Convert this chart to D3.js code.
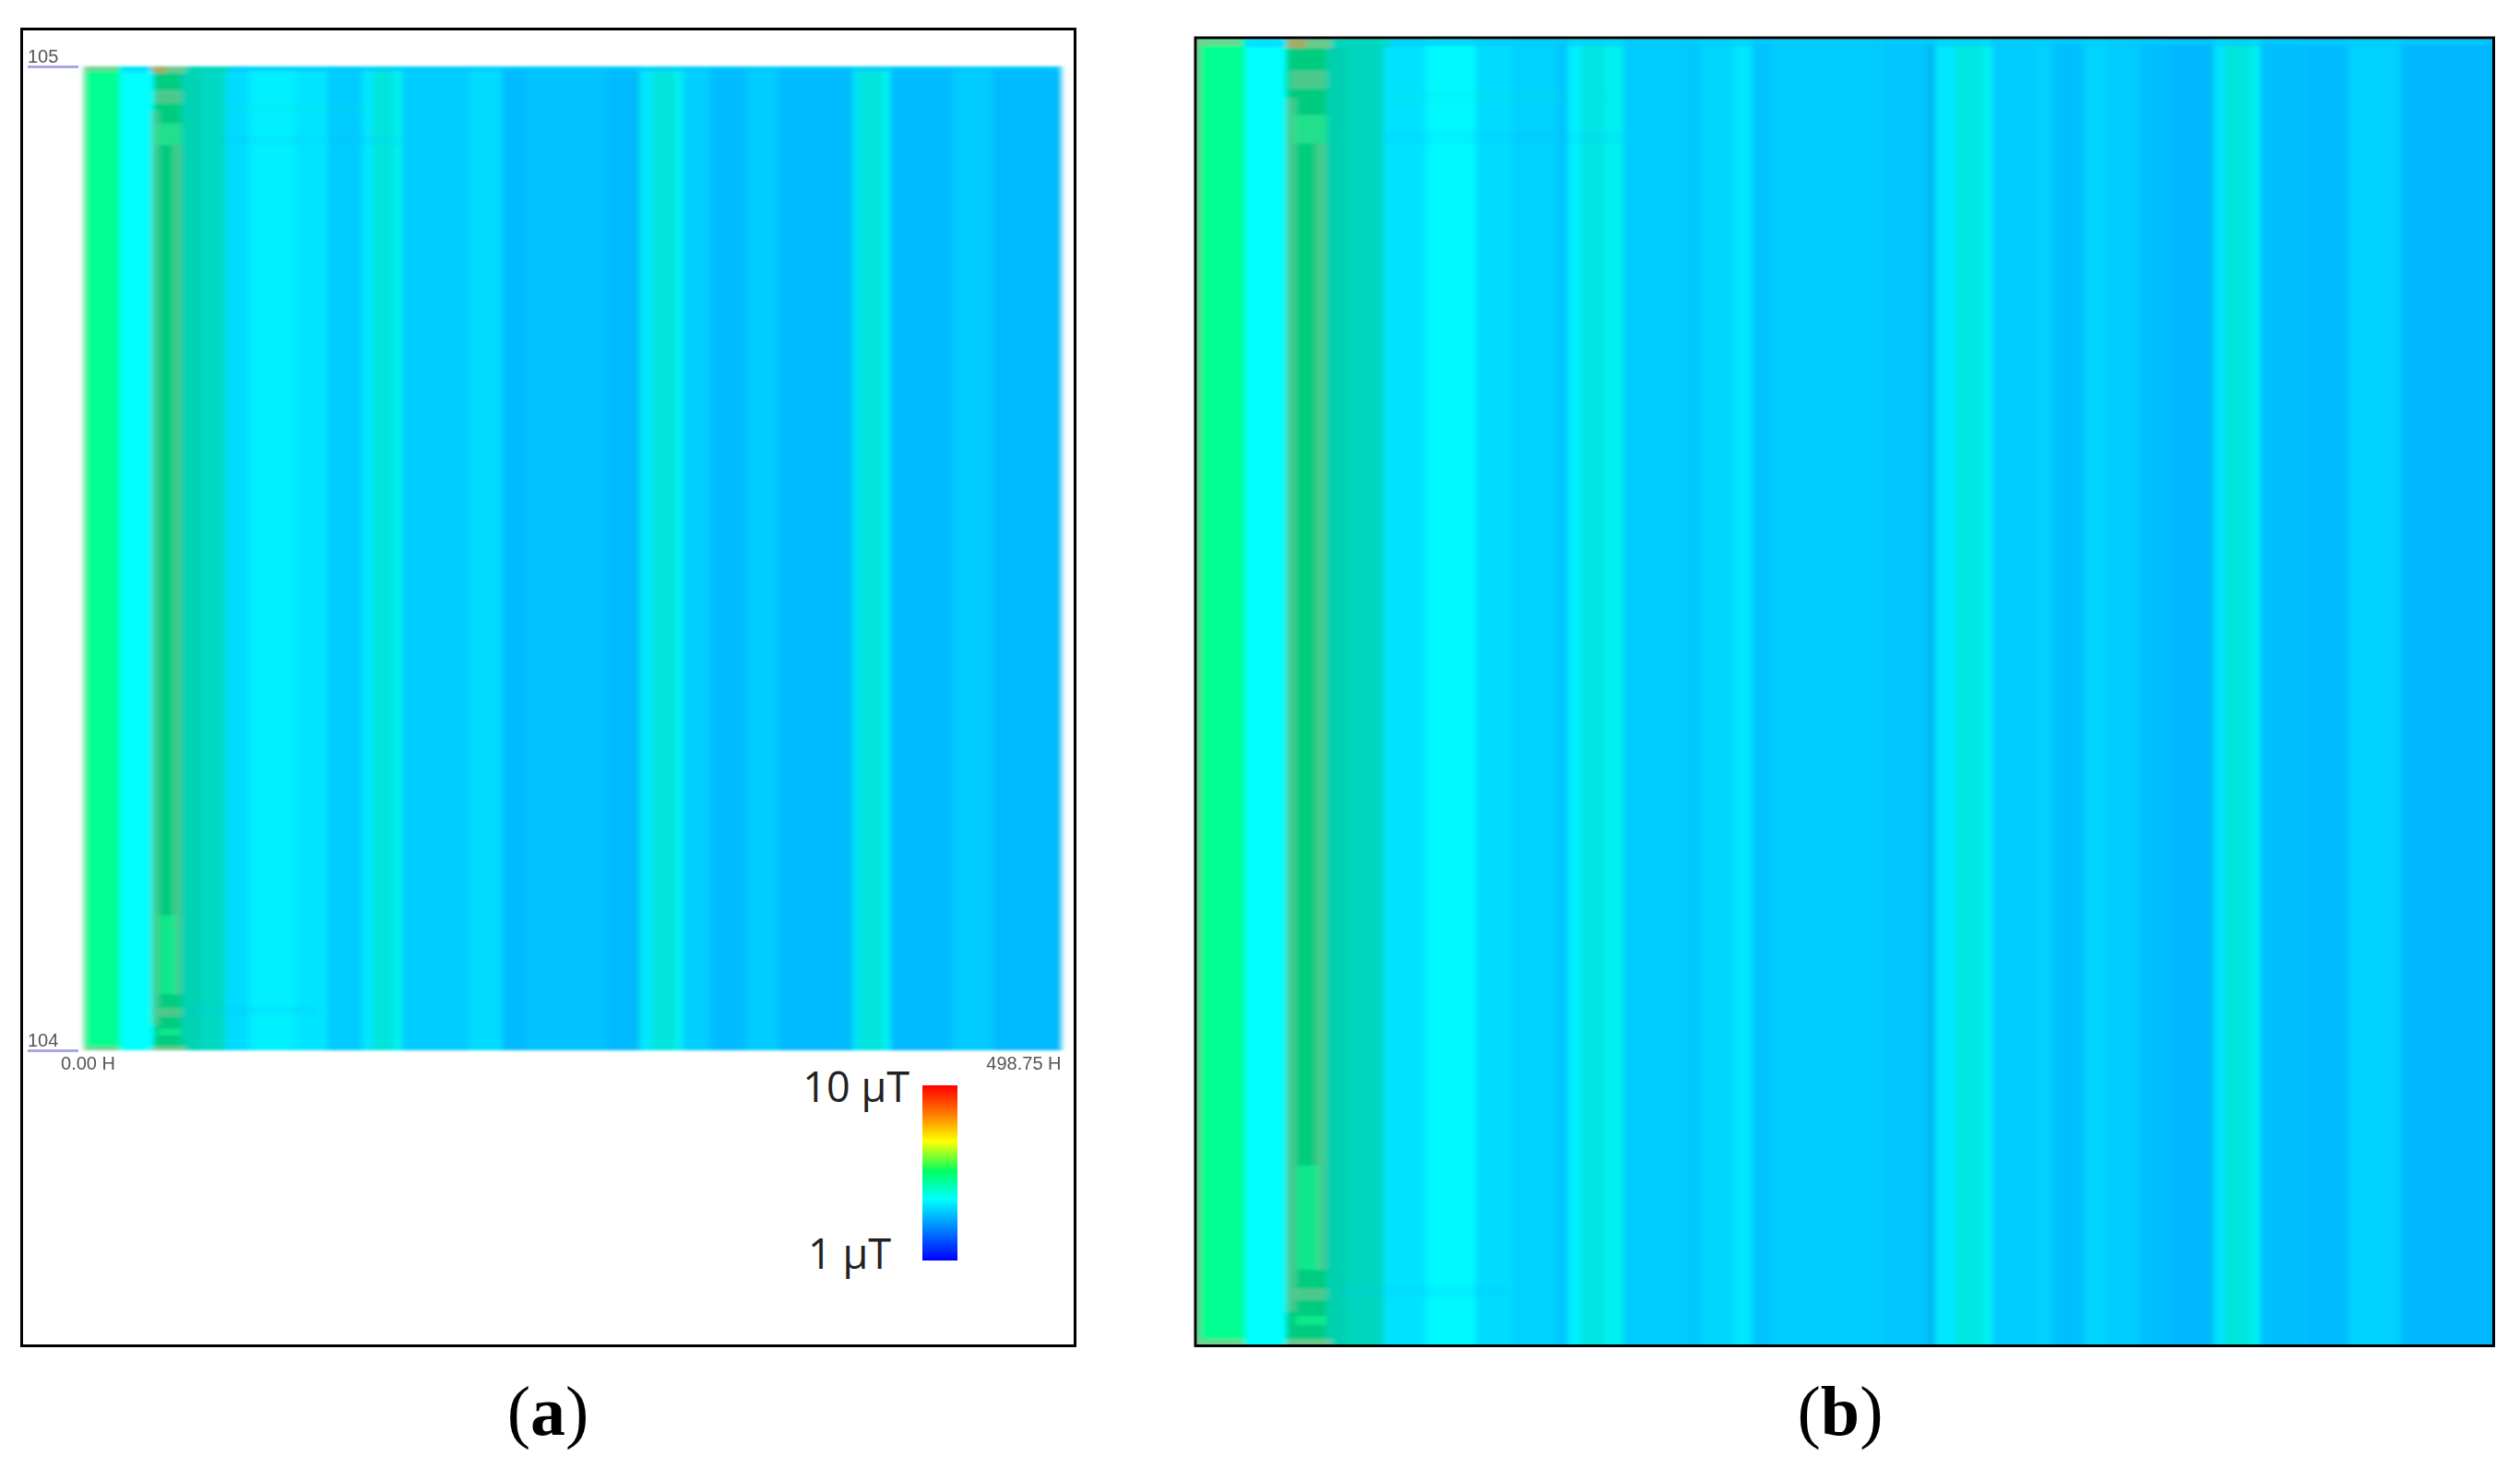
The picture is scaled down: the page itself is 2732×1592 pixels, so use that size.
<!DOCTYPE html>
<html>
<head>
<meta charset="utf-8">
<style>
html, body { margin: 0; background: #fff; }
svg { display: block; }
text { font-family: "Liberation Sans", sans-serif; }
.panel-label { font-family: "Liberation Serif", serif; font-size: 76px; fill: #000; }
.panel-label .letter { font-weight: bold; }
.small-tick text { font-size: 20px; fill: #555; font-family: "Liberation Sans", sans-serif; }
.legend-label { font-family: "Open Sans", sans-serif; font-size: 45px; fill: #222; }
</style>
</head>
<body>
<script src="https://cdnjs.cloudflare.com/ajax/libs/d3/7.8.5/d3.min.js"></script>
<script>

var width = 2732,
    height = 1592;

// time axis, hours
var timeExtent = [0, 498.75];
var levelExtent = [105, 104];
var timeTicks = [0, 498.75];
var levelTicks = [105, 104];

// panel (a): start of each time segment (hours) and its field (uT)
var startsA = [0, 0.9, 18.3, 22.5, 35.7, 39, 45.6, 49.8, 60, 72.3, 84.5, 107.5, 124.4, 142.3, 147.5, 158.3, 162.5, 196.8, 213.7, 225.4, 267.2, 281.3, 283.6, 290.2, 302, 305.7, 319.8, 338.1, 354.5, 389.3, 392.1, 395.4, 407.6, 411.8, 443.8, 464, 497.8];
var fieldA = [2.95, 2.82, 2.24, 2.24, 2.69, 2.69, 2.69, 2.55, 2.48, 2.0, 2.14, 2.06, 1.86, 2.08, 2.38, 2.3, 1.86, 2.0, 1.76, 1.8, 1.75, 1.68, 2.08, 2.38, 2.3, 1.88, 1.76, 1.86, 1.76, 1.68, 2.05, 2.38, 2.3, 1.75, 1.86, 1.75, 1.68];

// panel (b): same thing
var startsB = [0, 1.4, 18.5, 22.7, 34.5, 38, 45.8, 49.7, 57.5, 71.8, 88.5, 107.3, 121.5, 139.2, 142.8, 148.1, 157, 164.1, 189, 194.3, 206.7, 213.8, 221, 263.6, 281.3, 284.2, 292, 302.6, 306.2, 322.2, 329.3, 341.7, 350.6, 363, 373.7, 389.7, 391.4, 395.7, 405.6, 409.2, 427, 443, 463.6, 498];
var fieldB = [2.95, 2.82, 2.24, 2.24, 2.69, 2.69, 2.69, 2.57, 2.5, 2.05, 2.2, 2.0, 1.9, 1.8, 2.14, 2.36, 2.3, 1.86, 1.83, 1.95, 2.08, 1.8, 1.86, 1.83, 1.68, 2.08, 2.36, 2.3, 1.86, 1.9, 1.78, 1.95, 1.86, 1.78, 1.74, 1.68, 2.05, 2.38, 2.3, 1.78, 1.76, 1.9, 1.74, 1.66];

// local spots: [from H, to H, top level, bottom level, uT]
var hotSpots = [
  [34.5, 38, 104.955, 104.025, 2.95],
  [45.8, 49.7, 104.92, 104.057, 2.95],
  [38.5, 47, 104.137, 104.057, 2.85],
  [36, 50, 104.976, 104.962, 3.0],
  [37, 50, 104.942, 104.92, 2.88],
  [37, 50, 104.043, 104.034, 3.0],
  [38, 50, 104.022, 104.015, 2.85],
  [0, 17, 105, 104.995, 3.55],
  [18.5, 34.5, 105, 104.994, 1.95],
  [34.5, 42, 105, 104.993, 5],
  [42, 52, 105, 104.993, 3.55],
  [52, 75, 105, 104.994, 2.5],
  [75, 498.75, 105, 104.995, 1.85],
  [0, 18, 104.004, 104, 3.55],
  [34.5, 52, 104.004, 104, 3.55]
];

// very faint horizontal bands: same layout
var faintBands = [
  [72, 160, 104.96, 104.952, 2.4],
  [72, 165, 104.93, 104.92, 1.8],
  [55, 120, 104.045, 104.036, 1.75]
];

// the map's own colours, the picture is dull compared to the colour bar
var heatDomain = [1.58, 1.74, 1.86, 2.0, 2.14, 2.24, 2.34, 2.45, 2.57, 2.69, 2.82, 2.95, 3.55, 5];
var heatColours = ["#00b0d8", "#00b8ff", "#00ccff", "#00dcff", "#00f0ff", "#00ffff", "#00e8e8", "#00dcc8", "#00d0b0", "#00cc80", "#00ff90", "#60c890", "#90c890", "#e0a060"];

// colour bar
var barDomain = [1, 2.24, 3.24, 4.79, 7.08, 10];
var barColours = ["#0000ff", "#00ffff", "#00ff60", "#ffff00", "#ff7000", "#ff0000"];
var legendTicks = [["10 µT", 10], ["1 µT", 1]];

var heat = d3.scaleLinear().domain(heatDomain).range(heatColours).clamp(true);
var barColour = d3.scaleLog().domain(barDomain).range(barColours);

var svg = d3.select("body").append("svg")
    .attr("width", width)
    .attr("height", height);

var defs = svg.append("defs");
defs.append("filter").attr("id", "soft")
    .attr("x", "-2%").attr("y", "-2%").attr("width", "104%").attr("height", "104%")
  .append("feGaussianBlur").attr("stdDeviation", "3 1.6");
defs.append("filter").attr("id", "softText")
  .append("feGaussianBlur").attr("stdDeviation", 0.7);

function drawMap(box, starts, field, clip) {
  var x = d3.scaleLinear().domain(timeExtent).range([box.left, box.right]);
  var y = d3.scaleLinear().domain(levelExtent).range([box.top, box.bottom]);
  var pad = clip ? 12 : 0; // overscan so the blur does not fade at the frame

  var map = svg.append("g");
  if (clip) {
    defs.append("clipPath").attr("id", clip)
      .append("rect")
        .attr("x", box.left).attr("y", box.top)
        .attr("width", box.right - box.left).attr("height", box.bottom - box.top);
    map.attr("clip-path", "url(#" + clip + ")");
  }
  var inner = map.append("g").attr("filter", "url(#soft)");

  inner.selectAll("rect.col")
      .data(starts)
    .enter().append("rect")
      .attr("class", "col")
      .attr("x", function(d, i) { return x(d) - (i ? 0 : pad); })
      .attr("width", function(d, i) {
        var last = i + 1 === starts.length;
        var next = last ? timeExtent[1] : starts[i + 1];
        return x(next) - x(d) + 0.5 + (i ? 0 : pad) + (last ? pad : 0);
      })
      .attr("y", box.top - pad)
      .attr("height", box.bottom - box.top + 2 * pad)
      .attr("fill", function(d, i) { return heat(field[i]); });

  inner.selectAll("rect.faint")
      .data(faintBands)
    .enter().append("rect")
      .attr("class", "faint")
      .attr("x", function(d) { return x(d[0]); })
      .attr("width", function(d) { return x(d[1]) - x(d[0]); })
      .attr("y", function(d) { return y(d[2]); })
      .attr("height", function(d) { return y(d[3]) - y(d[2]); })
      .attr("fill", function(d) { return heat(d[4]); })
      .attr("fill-opacity", 0.15);

  inner.selectAll("rect.spot")
      .data(hotSpots)
    .enter().append("rect")
      .attr("class", "spot")
      .attr("x", function(d) { return x(d[0]); })
      .attr("width", function(d) { return x(d[1]) - x(d[0]); })
      .attr("y", function(d) { return y(d[2]); })
      .attr("height", function(d) { return y(d[3]) - y(d[2]); })
      .attr("fill", function(d) { return heat(d[4]); })
      .attr("fill-opacity", 0.75);

  return { x: x, y: y };
}

// ---- panel (a)
var boxA = { left: 91, right: 1150, top: 72, bottom: 1139 };
var scalesA = drawMap(boxA, startsA, fieldA, null);

var yAxis = d3.axisLeft(scalesA.y).tickValues(levelTicks).tickSize(55).tickFormat(d3.format("d"));
var gy = svg.append("g").attr("class", "small-tick")
    .attr("transform", "translate(85,0)")
    .call(yAxis);
gy.select(".domain").remove();
gy.selectAll("line").attr("stroke", "#a8a8e0").attr("stroke-width", 3);
gy.selectAll("text")
    .attr("x", -55).attr("dy", -5)
    .attr("text-anchor", "start")
    .attr("filter", "url(#softText)");

var xAxis = d3.axisBottom(scalesA.x).tickValues(timeTicks).tickSize(0)
    .tickFormat(function(d) { return d.toFixed(2) + " H"; });
var gx = svg.append("g").attr("class", "small-tick")
    .attr("transform", "translate(0," + boxA.bottom + ")")
    .call(xAxis);
gx.select(".domain").remove();
gx.selectAll("text")
    .attr("y", 0).attr("dy", 21)
    .attr("filter", "url(#softText)")
    .attr("text-anchor", function(d, i) { return i ? "end" : "middle"; })
    .attr("dx", function(d, i) { return i ? 0 : 4; });

svg.append("rect")
    .attr("x", 23.5).attr("y", 31.5)
    .attr("width", 1142).attr("height", 1428)
    .attr("fill", "none").attr("stroke", "#000").attr("stroke-width", 3);

// colour bar and its labels
var barY = d3.scaleLog().domain([1, 10]).range([1367, 1177]);
var grad = defs.append("linearGradient").attr("id", "barGrad")
    .attr("x1", 0).attr("x2", 0).attr("y1", 1).attr("y2", 0);
grad.selectAll("stop")
    .data(barDomain)
  .enter().append("stop")
    .attr("offset", function(d) { return (barY(1) - barY(d)) / (barY(1) - barY(10)); })
    .attr("stop-color", function(d) { return barColour(d); });

svg.append("rect")
    .attr("x", 1000).attr("y", barY(10))
    .attr("width", 38).attr("height", barY(1) - barY(10))
    .attr("fill", "url(#barGrad)");

svg.selectAll("text.legend-label")
    .data(legendTicks)
  .enter().append("text")
    .attr("class", "legend-label")
    .attr("x", function(d) { return d[1] === 10 ? 986 : 966; })
    .attr("y", function(d) { return barY(d[1]) + (d[1] === 10 ? 18 : 9); })
    .attr("text-anchor", "end")
    .text(function(d) { return d[0]; });

// ---- panel (b)
var boxB = { left: 1297.5, right: 2702, top: 42.5, bottom: 1458 };
drawMap(boxB, startsB, fieldB, "clipB");

svg.append("rect")
    .attr("x", 1296).attr("y", 41)
    .attr("width", 1407.5).attr("height", 1418.5)
    .attr("fill", "none").attr("stroke", "#000").attr("stroke-width", 3);

// ---- (a) (b)
var labels = svg.selectAll("text.panel-label")
    .data([["a", 594], ["b", 1995]])
  .enter().append("text")
    .attr("class", "panel-label")
    .attr("x", function(d) { return d[1]; })
    .attr("y", 1556)
    .attr("text-anchor", "middle");
labels.append("tspan").text("(");
labels.append("tspan").attr("class", "letter").text(function(d) { return d[0]; });
labels.append("tspan").text(")");

</script>
</body>
</html>
